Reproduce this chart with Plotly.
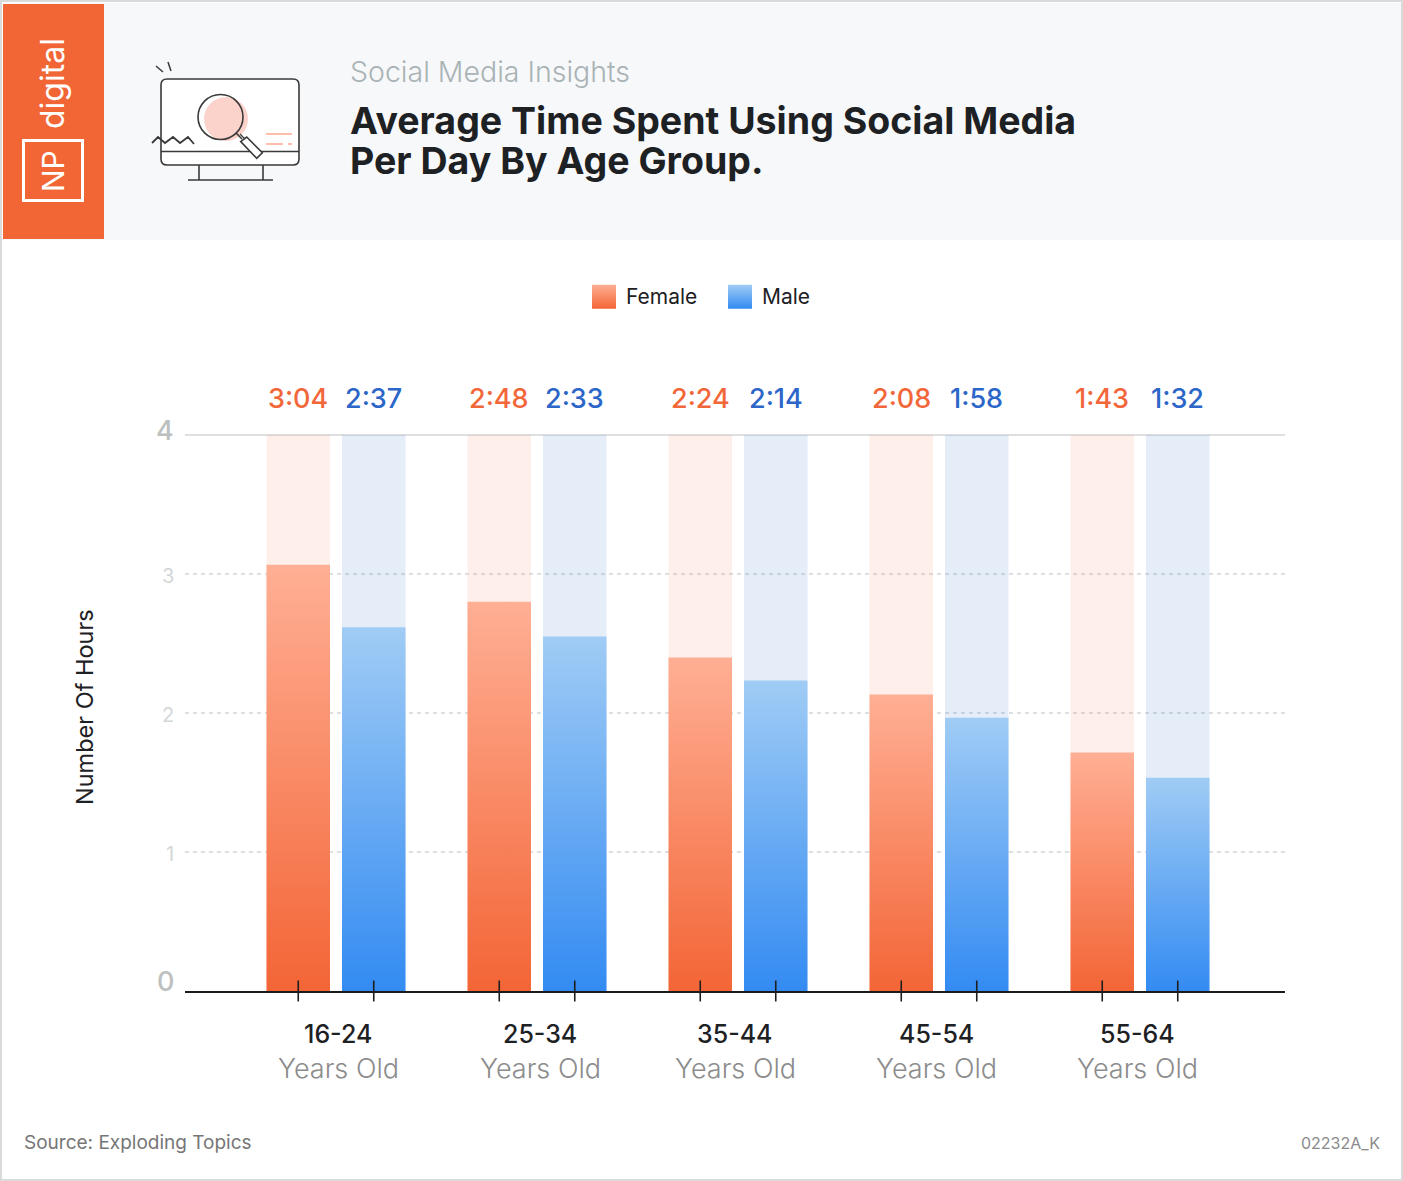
import plotly.graph_objects as go

W, H = 1403, 1181
FONT = "Inter"

# Chart data: daily social media time per age group, as h:mm
age_groups = ["16-24", "25-34", "35-44", "45-54", "55-64"]
female_time = ["3:04", "2:48", "2:24", "2:08", "1:43"]
male_time = ["2:37", "2:33", "2:14", "1:58", "1:32"]
y_ticks = [0, 1, 2, 3, 4]
track_top = 4


def hours(t):
    h, m = t.split(":")
    return int(h) + int(m) / 60


female_hours = [hours(t) for t in female_time]
male_hours = [hours(t) for t in male_time]
xs = list(range(len(age_groups)))

# Pixel geometry of the plot area
PX0, PX1, PY_TOP, PY_BOTTOM = 185, 1285, 435, 991
GROUP_STEP = 201
FIRST_GROUP_PX = 336
BAR_OFFSET = 37.75 / GROUP_STEP
GROUP_LABEL_SHIFT = [2, 3, -3, -3, -3]


def px(x):
    return x / W


def py(y):
    return 1 - y / H


def pt(x, y):
    return f"{px(x):.5f},{py(y):.5f}"


def poly(points):
    return "M" + " L".join(pt(x, y) for x, y in points)


def round_rect(x0, y0, x1, y1, r):
    return (
        f"M{pt(x0 + r, y0)} L{pt(x1 - r, y0)} Q{pt(x1, y0)} {pt(x1, y0 + r)} "
        f"L{pt(x1, y1 - r)} Q{pt(x1, y1)} {pt(x1 - r, y1)} L{pt(x0 + r, y1)} "
        f"Q{pt(x0, y1)} {pt(x0, y1 - r)} L{pt(x0, y0 + r)} Q{pt(x0, y0)} {pt(x0 + r, y0)} Z"
    )


shapes = []


def rect(x0, y0, x1, y1, fill=None, line=None, width=0, layer="below"):
    shapes.append(dict(type="rect", xref="paper", yref="paper", x0=px(x0), x1=px(x1),
                       y0=py(y0), y1=py(y1), fillcolor=fill or "rgba(0,0,0,0)",
                       line=dict(color=line or "rgba(0,0,0,0)", width=width), layer=layer))


def circle(cx, cy, r, fill=None, line=None, width=0):
    shapes.append(dict(type="circle", xref="paper", yref="paper", x0=px(cx - r), x1=px(cx + r),
                       y0=py(cy - r), y1=py(cy + r), fillcolor=fill or "rgba(0,0,0,0)",
                       line=dict(color=line or "rgba(0,0,0,0)", width=width), layer="below"))


def path(d, line="#3A3A3A", width=1.6, fill=None):
    shapes.append(dict(type="path", xref="paper", yref="paper", path=d,
                       fillcolor=fill or "rgba(0,0,0,0)", line=dict(color=line, width=width),
                       layer="below"))


# Header band, logo block and outer frame
rect(3, 3, 1403, 240, fill="#F7F8FA")
rect(3, 4, 104, 239, fill="#F26635")
rect(23.5, 140.5, 82.5, 200.5, line="#FFFFFF", width=3)

# Monitor illustration
INK = "#3A3A3A"
ACCENT = "#FFA98F"
path(round_rect(161, 79, 299, 165, 6), line=INK, fill="#FFFFFF")
path(poly([(161, 151.5), (299, 151.5)]), line=INK)
path(poly([(199, 165), (199, 180)]), line=INK)
path(poly([(263, 165), (263, 180)]), line=INK)
path(poly([(188, 180), (273, 180)]), line=INK)
circle(226, 119, 22, fill="#FBD3CB")
circle(220.5, 117, 22.5, line=INK, width=1.6)
path(poly([(236, 133), (242, 139)]), line=INK, width=1.6)
path(poly([(240, 134), (245, 139)]), line=INK, width=1.2)
path(poly([(246.7, 137), (262.3, 152.7), (256.7, 158.3), (240.7, 141.5)]) + " Z", line=INK, fill="#FFFFFF")
path(poly([(152, 143), (158, 137), (165, 143), (173, 137), (180, 143), (188, 137), (194, 144)]),
     line=INK, width=1.8)
path(poly([(156, 66), (163, 72)]), line=INK, width=1.5)
path(poly([(168, 62), (171, 71)]), line=INK, width=1.5)
path(poly([(266, 134), (292, 134)]), line=ACCENT, width=1.5)
path(poly([(266, 144), (283, 144)]), line=ACCENT, width=1.5)
path(poly([(288, 144), (292, 144)]), line=ACCENT, width=1.5)

# Solid line at the top of the scale
shapes.append(dict(type="line", xref="paper", yref="paper", x0=px(PX0), x1=px(PX1), y0=py(PY_TOP), y1=py(PY_TOP),
                   line=dict(color="#DDDFE0", width=2), layer="below"))

annotations = []


def label(x, y, text, size, color, anchor="left", weight=400, angle=0):
    annotations.append(dict(xref="paper", yref="paper", x=px(x), y=py(y), text=text,
                            showarrow=False, xanchor=anchor, yanchor="middle", textangle=angle, align="left",
                            font=dict(size=size, color=color, family=FONT, weight=weight)))


# Header text
label(348, 71, "Social Media Insights", 28.5, "#A9B3B5", weight=300)
label(348, 145.4, "Average Time Spent Using Social Media<br>Per Day By Age Group.", 37.5, "#1E2124", weight=700)
label(52, 84, "digital", 32, "#FFFFFF", anchor="center", angle=-90, weight=400)
label(53, 171, "NP", 30, "#FFFFFF", anchor="center", angle=-90, weight=400)

# Footer and axis title
label(22, 1142, "Source: Exploding Topics", 19, "#767676", weight=400)
label(1382, 1143, "02232A_K", 16, "#8A8A8A", anchor="right", weight=400)
label(84, 707, "Number Of Hours", 23.5, "#1E2124", anchor="center", angle=-90, weight=400)

# Value labels above each pair of bars, anchored to the top of the scale
for i in xs:
    for t, off, col in ((female_time[i], -BAR_OFFSET, "#F2673A"), (male_time[i], BAR_OFFSET, "#2B66C8")):
        annotations.append(dict(xref="x", yref="y", x=i + off, y=track_top, yanchor="middle", yshift=36,
                                text=t, showarrow=False,
                                font=dict(size=27, color=col, family=FONT, weight=500)))

# Age-group labels under the axis
for i, g in enumerate(age_groups):
    annotations.append(dict(xref="x", yref="paper", x=i, xshift=GROUP_LABEL_SHIFT[i], y=py(1034), yanchor="middle",
                            text=g, showarrow=False,
                            font=dict(size=25, color="#1E2124", family=FONT, weight=500)))
    annotations.append(dict(xref="x", yref="paper", x=i, xshift=GROUP_LABEL_SHIFT[i], y=py(1068), yanchor="middle",
                            text="Years Old", showarrow=False,
                            font=dict(size=27, color="#8C8C8C", family=FONT, weight=300)))

# Y tick labels: the end values are larger, and 0 sits above the baseline
for v in y_ticks:
    big = v in (y_ticks[0], y_ticks[-1])
    annotations.append(dict(xref="paper", yref="y", x=px(176), y=v, xanchor="right", yanchor="middle",
                            yshift=10 if v == 0 else (4 if big else -2), text=str(v), showarrow=False,
                            font=dict(size=27 if big else 20, color="#BDBFC0" if big else "#D4D7D8",
                                      family=FONT, weight=500 if big else 400)))

fig = go.Figure()
bar_common = dict(x=xs, hoverinfo="skip")
fig.add_bar(y=[track_top] * len(xs), offsetgroup="f", marker=dict(color="rgba(243,101,54,0.10)", line_width=0),
            showlegend=False, **bar_common)
fig.add_bar(y=[track_top] * len(xs), offsetgroup="m", marker=dict(color="rgba(41,110,200,0.12)", line_width=0),
            showlegend=False, **bar_common)
fig.add_bar(y=female_hours, name="Female", offsetgroup="f", marker=dict(color="#F9875F", line_width=0), **bar_common)
fig.add_bar(y=male_hours, name="Male", offsetgroup="m", marker=dict(color="#6AAAF3", line_width=0), **bar_common)

# Tick marks straddling the baseline under each bar
tick_x = [i + s * BAR_OFFSET for i in xs for s in (-1, 1)]
fig.add_scatter(x=tick_x, y=[0] * len(tick_x), mode="markers", cliponaxis=False, showlegend=False,
                hoverinfo="skip", marker=dict(symbol="line-ns", size=15, line=dict(color="#1E1E1E", width=1.6)))

plot_width_units = (PX1 - PX0) / GROUP_STEP
x_start = -(FIRST_GROUP_PX - PX0) / GROUP_STEP

fig.update_layout(
    width=W, height=H, autosize=False,
    margin=dict(l=0, r=0, t=0, b=0),
    paper_bgcolor="#FFFFFF", plot_bgcolor="rgba(0,0,0,0)",
    barmode="group", bargap=1 - 151 / 201, bargroupgap=1 - 63.5 / 75.5,
    shapes=shapes, annotations=annotations,
    font=dict(family=FONT),
    legend=dict(orientation="h", x=px(586), y=py(275.5), xanchor="left", yanchor="top",
                font=dict(size=21, color="#1E2124", family=FONT),
                entrywidth=91, entrywidthmode="pixels", itemclick=False, itemdoubleclick=False,
                bgcolor="rgba(0,0,0,0)", borderwidth=0, traceorder="normal"),
    xaxis=dict(domain=[px(PX0), px(PX1)], range=[x_start, x_start + plot_width_units],
               tickmode="array", tickvals=xs, ticktext=[""] * len(xs), ticks="", showgrid=False,
               showline=True, linecolor="#1A1A1A", linewidth=2, zeroline=False, layer="above traces"),
    yaxis=dict(domain=[py(PY_BOTTOM), py(PY_TOP)], range=[0, track_top], tickmode="array",
               tickvals=y_ticks[1:-1], showticklabels=False, ticks="", showgrid=True,
               gridcolor="#DDE0E2", gridwidth=2, griddash="4px,4px", zeroline=False, showline=False),
)

# Vertical gradients on the hour bars and legend swatches, tighter title leading, and the page frame
post_script = """
var gd = document.querySelector('.js-plotly-plot');
var svg = gd.querySelector('svg.main-svg');
var ns = 'http://www.w3.org/2000/svg';
var defs = document.createElementNS(ns, 'defs');
function grad(id, top, bottom) {
  var g = document.createElementNS(ns, 'linearGradient');
  g.setAttribute('id', id);
  g.setAttribute('x1', '0'); g.setAttribute('y1', '0');
  g.setAttribute('x2', '0'); g.setAttribute('y2', '1');
  [[0, top], [1, bottom]].forEach(function (s) {
    var st = document.createElementNS(ns, 'stop');
    st.setAttribute('offset', s[0]);
    st.setAttribute('stop-color', s[1]);
    g.appendChild(st);
  });
  defs.appendChild(g);
}
grad('grad-female', '#FFAF94', '#F36536');
grad('grad-male', '#A0CCF5', '#338BF2');
svg.insertBefore(defs, svg.firstChild);
var ids = ['grad-female', 'grad-male'];
var traces = gd.querySelectorAll('.barlayer .trace');
[2, 3].forEach(function (t, k) {
  traces[t].querySelectorAll('path').forEach(function (p) {
    p.style.fill = 'url(#' + ids[k] + ')';
  });
});
gd.querySelectorAll('.legend .traces').forEach(function (item, k) {
  var p = item.querySelector('.legendbar path, .legendundefined path, path');
  if (p) {
    p.setAttribute('d', 'M-14,-11h24v24h-24z');
    p.style.fill = 'url(#' + ids[k] + ')';
    p.style.stroke = 'none';
  }
});
gd.querySelectorAll('.annotation-text tspan.line').forEach(function (t) {
  if (t.textContent.indexOf('Per Day') === 0) { t.setAttribute('dy', '1.067em'); }
});
document.body.style.margin = '0';
var frame = document.createElement('div');
frame.style.cssText = 'position:fixed;left:0;top:0;width:1403px;height:1181px;box-sizing:border-box;border:2px solid #DADADA;pointer-events:none;';
document.body.appendChild(frame);
"""

fig.write_html("out.html", post_script=post_script, config=dict(displayModeBar=False))
